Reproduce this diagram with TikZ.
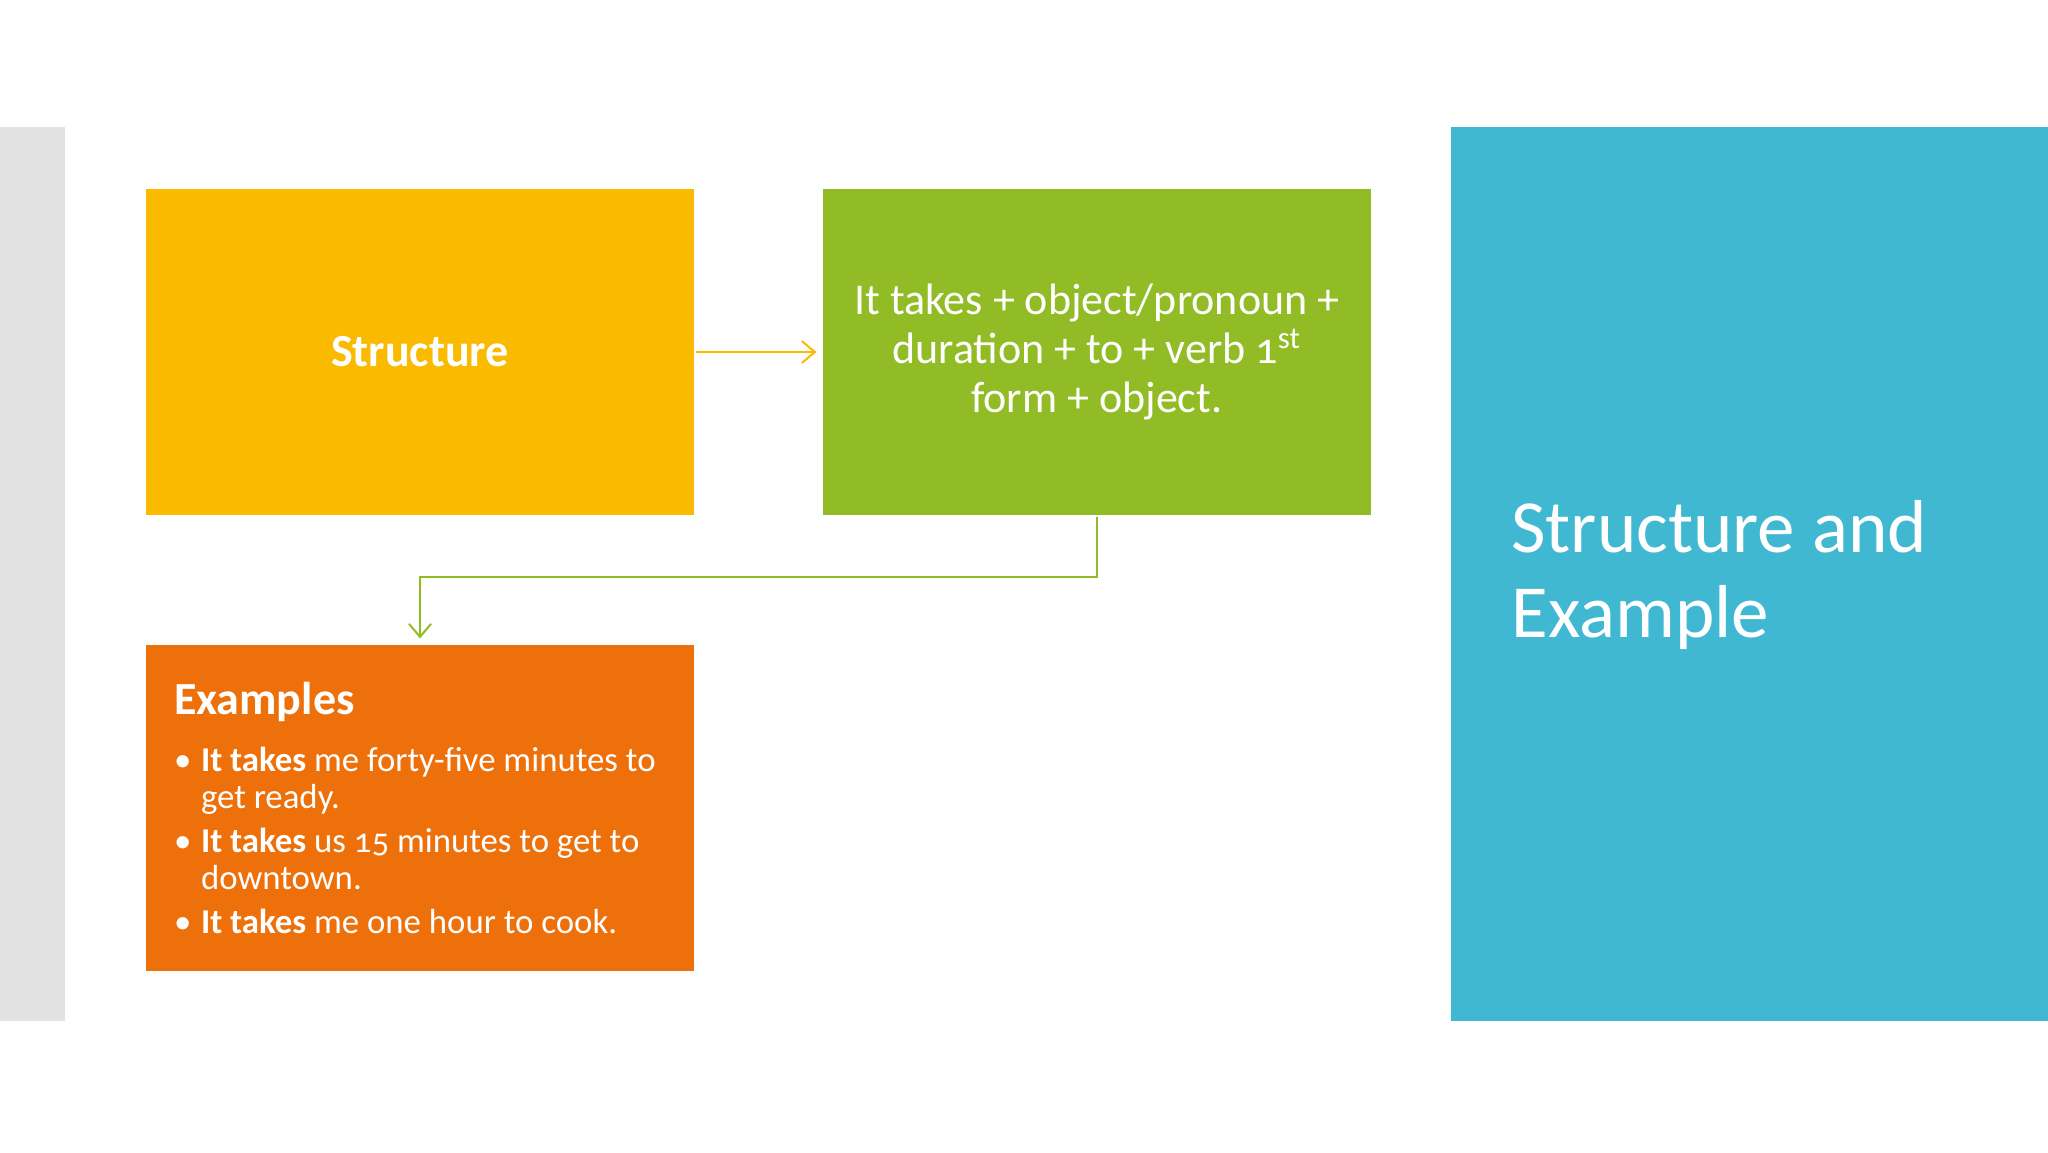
\documentclass[tikz,border=0pt]{standalone}
\usepackage{fontspec}
\setmainfont{Carlito}[Numbers=OldStyle]
\usetikzlibrary{arrows.meta,positioning}

\definecolor{slidegray}{HTML}{E2E2E2}
\definecolor{boxyellow}{HTML}{F9BA00}
\definecolor{boxgreen}{HTML}{92BC25}
\definecolor{boxorange}{HTML}{EE700B}
\definecolor{panelblue}{HTML}{41B8D2}

\newcommand{\itembul}{\makebox[13.5pt][l]{\textbullet}}

\begin{document}
\begin{tikzpicture}[x=0.5pt,y=-0.5pt,>={Straight Barb[length=6.5pt,width=11pt]},
  box/.style={rectangle,minimum width=274pt,minimum height=163pt,inner sep=0pt,text=white},
  link/.style={line width=1pt,shorten >=3pt,shorten <=1pt}]

\useasboundingbox[fill=white] (0,0) rectangle (2048,1152);
\fill[slidegray] (0,127) rectangle (65,1021);

  \node[box,fill=panelblue,minimum width=298.5pt,minimum height=447pt,anchor=north west] (panel) at (1451,127) {};
  \node[anchor=north west,text=white,align=left,font=\fontsize{37.5}{42.5}\selectfont,inner sep=0pt] (title) at (1511,500) {Structure and\\Example};

  \node[box,fill=boxyellow,font=\fontsize{23}{27}\selectfont\bfseries] (structure) at (420,352) {Structure};
  \node[box,fill=boxgreen,align=center,font=\fontsize{22}{24.5}\selectfont] (formula) [right=64pt of structure]
     {It takes + object/pronoun +\\duration + to + verb 1\textsuperscript{st}\\form + object.};
  \node[box,fill=boxorange,align=flush left,text width=246pt,inner xsep=14pt,font=\fontsize{17.4}{18.5}\selectfont] (examples) [below=64.5pt of structure]
     {{\fontsize{23}{26}\selectfont\bfseries Examples}\\[10pt]
      \itembul\textbf{It takes} me forty-five minutes to\\
      \hspace*{13.5pt}get ready.\\[3.5pt]
      \itembul\textbf{It takes} us 15 minutes to get to\\
      \hspace*{13.5pt}downtown.\\[3.5pt]
      \itembul\textbf{It takes} me one hour to cook.};

\path[->]
  (structure) edge[link,boxyellow] (formula);
\draw[->,link,boxgreen] (formula.south) -- ++(0,62) -| (examples.north);
\end{tikzpicture}
\end{document}
